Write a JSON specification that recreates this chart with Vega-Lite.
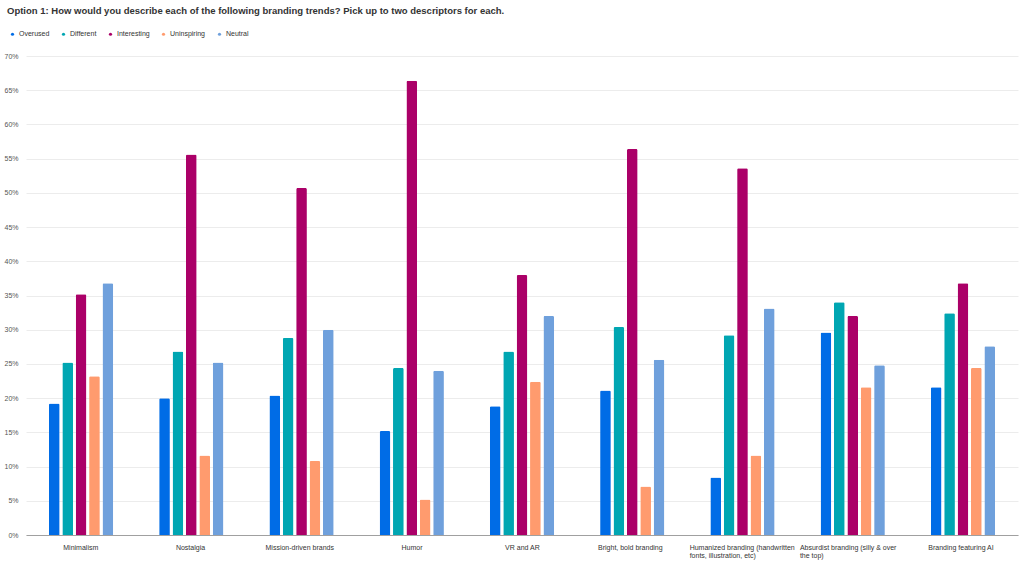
{
  "$schema": "https://vega.github.io/schema/vega-lite/v6.json",
  "width": 992,
  "height": 479,
  "autosize": "none",
  "padding": {"left": 26, "top": 56, "right": 6, "bottom": 41},
  "background": "white",
  "config": {
    "font": "Liberation Sans",
    "view": {"stroke": null},
    "axis": {"labelFont": "Liberation Sans"}
  },
  "title": {
    "text": "Option 1: How would you describe each of the following branding trends? Pick up to two descriptors for each.",
    "anchor": "start",
    "frame": "group",
    "dx": -19,
    "offset": 15,
    "fontSize": 9.5,
    "fontWeight": "bold",
    "color": "#333333"
  },
  "data": {
    "values": [
      {"trend": "Minimalism", "descriptor": "Overused", "value": 0.192},
      {"trend": "Minimalism", "descriptor": "Different", "value": 0.252},
      {"trend": "Minimalism", "descriptor": "Interesting", "value": 0.352},
      {"trend": "Minimalism", "descriptor": "Uninspiring", "value": 0.232},
      {"trend": "Minimalism", "descriptor": "Neutral", "value": 0.368},
      {"trend": "Nostalgia", "descriptor": "Overused", "value": 0.200},
      {"trend": "Nostalgia", "descriptor": "Different", "value": 0.268},
      {"trend": "Nostalgia", "descriptor": "Interesting", "value": 0.556},
      {"trend": "Nostalgia", "descriptor": "Uninspiring", "value": 0.116},
      {"trend": "Nostalgia", "descriptor": "Neutral", "value": 0.252},
      {"trend": "Mission-driven brands", "descriptor": "Overused", "value": 0.204},
      {"trend": "Mission-driven brands", "descriptor": "Different", "value": 0.288},
      {"trend": "Mission-driven brands", "descriptor": "Interesting", "value": 0.507},
      {"trend": "Mission-driven brands", "descriptor": "Uninspiring", "value": 0.108},
      {"trend": "Mission-driven brands", "descriptor": "Neutral", "value": 0.300},
      {"trend": "Humor", "descriptor": "Overused", "value": 0.152},
      {"trend": "Humor", "descriptor": "Different", "value": 0.244},
      {"trend": "Humor", "descriptor": "Interesting", "value": 0.664},
      {"trend": "Humor", "descriptor": "Uninspiring", "value": 0.052},
      {"trend": "Humor", "descriptor": "Neutral", "value": 0.240},
      {"trend": "VR and AR", "descriptor": "Overused", "value": 0.188},
      {"trend": "VR and AR", "descriptor": "Different", "value": 0.268},
      {"trend": "VR and AR", "descriptor": "Interesting", "value": 0.380},
      {"trend": "VR and AR", "descriptor": "Uninspiring", "value": 0.224},
      {"trend": "VR and AR", "descriptor": "Neutral", "value": 0.320},
      {"trend": "Bright, bold branding", "descriptor": "Overused", "value": 0.211},
      {"trend": "Bright, bold branding", "descriptor": "Different", "value": 0.304},
      {"trend": "Bright, bold branding", "descriptor": "Interesting", "value": 0.564},
      {"trend": "Bright, bold branding", "descriptor": "Uninspiring", "value": 0.071},
      {"trend": "Bright, bold branding", "descriptor": "Neutral", "value": 0.256},
      {"trend": "Humanized branding (handwritten fonts, illustration, etc)", "descriptor": "Overused", "value": 0.084},
      {"trend": "Humanized branding (handwritten fonts, illustration, etc)", "descriptor": "Different", "value": 0.292},
      {"trend": "Humanized branding (handwritten fonts, illustration, etc)", "descriptor": "Interesting", "value": 0.536},
      {"trend": "Humanized branding (handwritten fonts, illustration, etc)", "descriptor": "Uninspiring", "value": 0.116},
      {"trend": "Humanized branding (handwritten fonts, illustration, etc)", "descriptor": "Neutral", "value": 0.331},
      {"trend": "Absurdist branding (silly & over the top)", "descriptor": "Overused", "value": 0.296},
      {"trend": "Absurdist branding (silly & over the top)", "descriptor": "Different", "value": 0.340},
      {"trend": "Absurdist branding (silly & over the top)", "descriptor": "Interesting", "value": 0.320},
      {"trend": "Absurdist branding (silly & over the top)", "descriptor": "Uninspiring", "value": 0.216},
      {"trend": "Absurdist branding (silly & over the top)", "descriptor": "Neutral", "value": 0.248},
      {"trend": "Branding featuring AI", "descriptor": "Overused", "value": 0.216},
      {"trend": "Branding featuring AI", "descriptor": "Different", "value": 0.324},
      {"trend": "Branding featuring AI", "descriptor": "Interesting", "value": 0.368},
      {"trend": "Branding featuring AI", "descriptor": "Uninspiring", "value": 0.244},
      {"trend": "Branding featuring AI", "descriptor": "Neutral", "value": 0.276}
    ]
  },
  "mark": {"type": "bar", "cornerRadiusTopLeft": 1.5, "cornerRadiusTopRight": 1.5},
  "encoding": {
    "x": {
      "field": "trend",
      "type": "nominal",
      "sort": null,
      "scale": {"paddingInner": 0.417, "paddingOuter": 0.208},
      "axis": {
        "title": null,
        "labelAngle": 0,
        "ticks": false,
        "tickSize": 0,
        "domainColor": "#a0a0a0",
        "domainWidth": 1,
        "labelPadding": 8,
        "labelFontSize": 7,
        "labelColor": "#333333",
        "labelLimit": 200,
        "labelLineHeight": 8.5,
        "labelAlign": "left",
        "labelExpr": "datum.value == 'Humanized branding (handwritten fonts, illustration, etc)' ? ['Humanized branding (handwritten', 'fonts, illustration, etc)'] : datum.value == 'Absurdist branding (silly & over the top)' ? ['Absurdist branding (silly & over', 'the top)'] : datum.value",
        "labelOffset": {"expr": "datum.value == 'Minimalism' ? -17.8 : datum.value == 'Nostalgia' ? -15.4 : datum.value == 'Mission-driven brands' ? -36 : datum.value == 'Humor' ? -10.2 : datum.value == 'VR and AR' ? -16.9 : datum.value == 'Bright, bold branding' ? -34.2 : datum.value == 'Branding featuring AI' ? -34.6 : -52.8"}
      }
    },
    "xOffset": {
      "field": "descriptor",
      "sort": ["Overused", "Different", "Interesting", "Uninspiring", "Neutral"],
      "scale": {"paddingInner": 0.2, "paddingOuter": 0}
    },
    "y": {
      "field": "value",
      "type": "quantitative",
      "scale": {"domain": [0, 0.7]},
      "axis": {
        "title": null,
        "format": ".0%",
        "values": [0, 0.05, 0.1, 0.15, 0.2, 0.25, 0.3, 0.35, 0.4, 0.45, 0.5, 0.55, 0.6, 0.65, 0.7],
        "domain": false,
        "ticks": false,
        "tickSize": 0,
        "labelPadding": 8,
        "labelFontSize": 7,
        "labelColor": "#555555",
        "gridColor": "#ececec",
        "gridWidth": 1
      }
    },
    "color": {
      "field": "descriptor",
      "type": "nominal",
      "sort": ["Overused", "Different", "Interesting", "Uninspiring", "Neutral"],
      "scale": {
        "domain": ["Overused", "Different", "Interesting", "Uninspiring", "Neutral"],
        "range": ["#006ce6", "#00a6b2", "#ab0068", "#ff9b6e", "#6fa0dc"]
      },
      "legend": {
        "title": null,
        "orient": "none",
        "direction": "horizontal",
        "legendX": -17,
        "legendY": -25.5,
        "padding": 0,
        "symbolType": "circle",
        "symbolSize": 10,
        "symbolStrokeWidth": 0,
        "labelFontSize": 7,
        "labelColor": "#333333",
        "labelOffset": 3,
        "columnPadding": 10
      }
    }
  }
}
